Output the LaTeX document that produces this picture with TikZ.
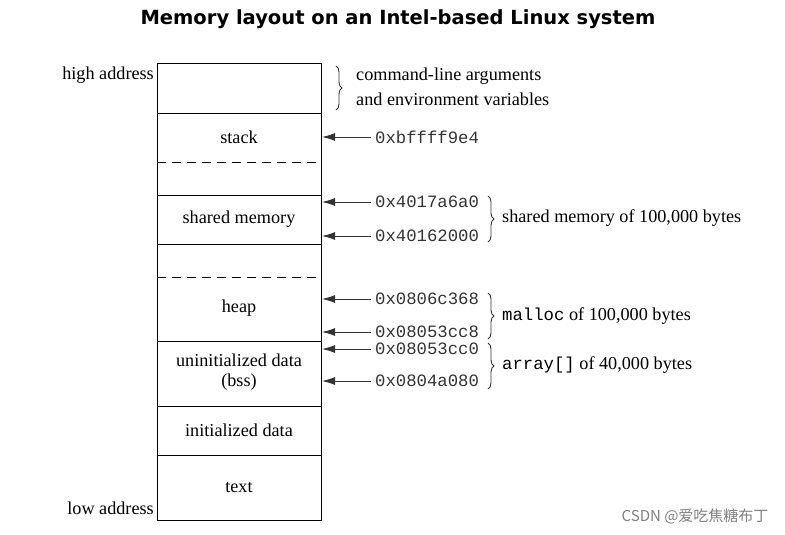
\documentclass[tikz,border=0pt]{standalone}
\usepackage{fontspec}
\setmainfont{Liberation Serif}
\newfontfamily\monof{Liberation Mono}
\newfontfamily\titlef{DejaVu Sans}
\newfontfamily\cjkf{Noto Sans CJK SC}
\usetikzlibrary{decorations.pathreplacing,arrows.meta}
\begin{document}
\begin{tikzpicture}[x=1pt,y=-1pt,
  lbl/.style={font=\fontsize{18.2}{20}\selectfont,align=center},
  addr/.style={font=\monof\fontsize{17.3}{19}\selectfont,anchor=west,inner sep=0pt,text=black!80},
  ptr/.style={-{Latex[length=13pt,width=8pt]},line width=1pt,draw=black!80},
  br/.style={decorate,decoration={brace,amplitude=6pt},line width=0.9pt,draw=black!80},
  side/.style={font=\fontsize{18.2}{20}\selectfont,anchor=west,inner sep=0pt}]
\useasboundingbox (0,0) rectangle (785,535);
\node[font=\titlef\bfseries\fontsize{19.5}{22}\selectfont] (title) at (398,19) {Memory layout on an Intel-based Linux system};
\draw[line width=0.9pt] (157,63) rectangle (321,520);
\foreach \y in {113,195,244,341,406,455} \draw[line width=0.9pt] (157,\y) -- (321,\y);
\foreach \y in {162,277} \draw[line width=0.9pt,dash pattern=on 9pt off 6pt] (157,\y) -- (321,\y);
\coordinate (edge) at (322,0);
\node[lbl] (stack) at (239,137) {stack};
\node[lbl] (shm) at (239,219) {shared memory};
\node[lbl] (heap) at (239,308) {heap};
\node[lbl] (bss) at (239,372) {uninitialized data\\(bss)};
\node[lbl] (init) at (239,430) {initialized data};
\node[lbl] (text) at (239,487) {text};
\node[lbl,anchor=east,inner sep=0pt] (hi) at (154,75) {high address};
\node[lbl,anchor=east,inner sep=0pt] (lo) at (154,508) {low address};
% command line
\coordinate (c1) at (336,66); \coordinate (c2) at (336,110);
\draw[br] (c1) -- (c2);
\node[side] (cmd) at (356,76) {command-line arguments};
\node[side] (env) at (356,99) {and environment variables};
% addresses
\node[addr] (a1) at (375,137) {0xbffff9e4};
\node[addr] (a2) at (375,202) {0x4017a6a0};
\node[addr] (a3) at (375,236) {0x40162000};
\node[addr] (a4) at (375,299) {0x0806c368};
\node[addr] (a5) at (375,332) {0x08053cc8};
\node[addr] (a6) at (375,349) {0x08053cc0};
\node[addr] (a7) at (375,381) {0x0804a080};
\foreach \n in {a1,a2,a3,a4,a5,a6,a7} \draw[ptr] ([xshift=-4pt]\n.west) -- (edge |- \n.west);
\draw[br] (488,196) -- (488,242);
\node[side] (s1) at (502,218) {shared memory of 100,000 bytes};
\draw[br] (488,293) -- (488,339);
\node[side] (s2) at (502,316) {{\monof\fontsize{17.3}{19}\selectfont malloc} of 100,000 bytes};
\draw[br] (488,343) -- (488,389);
\node[side] (s3) at (502,365) {{\monof\fontsize{17.3}{19}\selectfont array[]} of 40,000 bytes};
\node[font=\cjkf\fontsize{15}{17}\selectfont,text=black!50,anchor=east] (wm) at (772,516) {CSDN @爱吃焦糖布丁};
\end{tikzpicture}
\end{document}
